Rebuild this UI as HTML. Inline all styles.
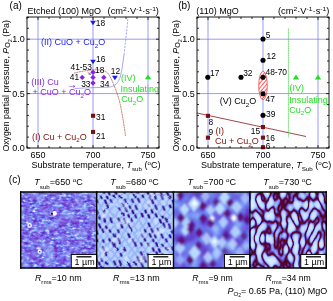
<!DOCTYPE html>
<html><head><meta charset="utf-8"><title>figure</title>
<style>
html,body{margin:0;padding:0;background:#fff;}
svg{display:block;filter:blur(0.3px)}
text{font-family:"Liberation Sans",sans-serif;font-size:9px;fill:#000}
.b{fill:#2222ee}.p{fill:#8a2be2}.r{fill:#7b1010}.g{fill:#22dd22}
.s{font-size:6.2px}
</style></head><body>
<svg width="333" height="301" viewBox="0 0 333 301">
<rect width="333" height="301" fill="#fff"/>

<line x1="38.0" y1="17" x2="38.0" y2="148" stroke="#5858f4" stroke-width="0.6"/>
<line x1="93.0" y1="17" x2="93.0" y2="148" stroke="#5858f4" stroke-width="0.6"/>
<line x1="148.0" y1="17" x2="148.0" y2="148" stroke="#5858f4" stroke-width="0.6"/>
<line x1="27" y1="93.6" x2="159" y2="93.6" stroke="#5858f4" stroke-width="0.6"/>
<line x1="27" y1="39.2" x2="159" y2="39.2" stroke="#5858f4" stroke-width="0.6"/>
<path d="M27.0 17v2M27.0 148v-2M38.0 17v3M38.0 148v-3M49.0 17v2M49.0 148v-2M60.0 17v2M60.0 148v-2M71.0 17v2M71.0 148v-2M82.0 17v2M82.0 148v-2M93.0 17v3M93.0 148v-3M104.0 17v2M104.0 148v-2M115.0 17v2M115.0 148v-2M126.0 17v2M126.0 148v-2M137.0 17v2M137.0 148v-2M148.0 17v3M148.0 148v-3M159.0 17v2M159.0 148v-2M27 148.0h3M159 148.0h-3M27 137.1h2M159 137.1h-2M27 126.2h2M159 126.2h-2M27 115.4h2M159 115.4h-2M27 104.5h2M159 104.5h-2M27 93.6h3M159 93.6h-3M27 82.7h2M159 82.7h-2M27 71.8h2M159 71.8h-2M27 61.0h2M159 61.0h-2M27 50.1h2M159 50.1h-2M27 39.2h3M159 39.2h-3M27 28.3h2M159 28.3h-2M27 17.4h2M159 17.4h-2" stroke="#000" stroke-width="0.8" fill="none"/>
<path d="M74 73.2 C80 71.5 88 70 96 69.8 C101 69.8 105 70.5 107.5 73 C110.5 76 112.5 82 115.3 88.5 C117.5 94 118.5 98 119.5 101 C121.5 110 123.5 121 125.5 136" fill="none" stroke="#a85a4a" stroke-width="0.7" stroke-dasharray="2.2 0.4"/>
<path d="M74.5 88.6 C85 87.8 100 87.5 108 87.2 C115 86.8 118.5 83 120.5 76 C122 70 123 62 124 55" fill="none" stroke="#6a6af0" stroke-width="0.6"/>
<path d="M124 55 C125.5 42 127 29 128 17" fill="none" stroke="#6a6af0" stroke-width="0.6" stroke-dasharray="2.2 1.2"/>
<path d="M90.1 20.8h5.8L93.0 25.2z" fill="#1c1ce8"/>
<path d="M90.1 59.8h5.8L93.0 64.2z" fill="#1c1ce8"/>
<path d="M112.0 75.8h5.8L114.9 80.2z" fill="#1c1ce8"/>
<path d="M90.3 72.2L93.0 69.5L95.7 72.2L93.0 74.9z" fill="#8a20e8"/>
<path d="M79.5 77.4L82.2 74.7L84.9 77.4L82.2 80.1z" fill="#8a20e8"/>
<path d="M90.3 77.4L93.0 74.7L95.7 77.4L93.0 80.1z" fill="#8a20e8"/>
<path d="M101.1 77.4L103.8 74.7L106.5 77.4L103.8 80.1z" fill="#8a20e8"/>
<path d="M90.3 83.0L93.0 80.3L95.7 83.0L93.0 85.7z" fill="#8a20e8"/>
<rect x="91.0" y="113.7" width="4.1" height="4.1" fill="#7b1010"/>
<rect x="91.0" y="129.9" width="4.1" height="4.1" fill="#7b1010"/>
<path d="M144.8 79.2h6.4L148.0 74.4z" fill="#22dd22"/>
<text x="9.6" y="9.2" style="font-size:10px">(a)</text>
<text x="27.5" y="13.5">Etched (100) MgO</text>
<text x="107.6" y="13.6" style="font-size:8.6px" textLength="51.4" lengthAdjust="spacingAndGlyphs">(cm<tspan dy="-3" class="s">2</tspan><tspan dy="3">·V</tspan><tspan dy="-3" class="s">-1</tspan><tspan dy="3">·s</tspan><tspan dy="-3" class="s">-1</tspan><tspan dy="3">)</tspan></text>
<text x="95.8" y="25.7" style="font-size:8.4px">18</text>
<text x="96" y="62.3" style="font-size:8.4px">16</text>
<text x="95" y="72.6" style="font-size:8.4px">18</text>
<text x="110.8" y="74" style="font-size:8.4px">12</text>
<text x="70.5" y="69.5" style="font-size:8.4px">41-53</text>
<text x="69.8" y="80.3" style="font-size:8.4px">41</text>
<text x="81.2" y="86.6" style="font-size:8.4px">33</text>
<text x="100" y="86.6" style="font-size:8.4px">34</text>
<text x="96" y="119.8" style="font-size:8.4px">31</text>
<text x="96" y="138.7" style="font-size:8.4px">21</text>
<text x="41" y="45.4" class="b">(II) CuO + Cu<tspan dy="2.5" class="s b">2</tspan><tspan dy="-2.5">O</tspan></text>
<text x="31.2" y="84.8" class="p">(III) Cu</text>
<text x="32.4" y="95.3" class="p">+ CuO + Cu<tspan dy="2.5" class="s p">2</tspan><tspan dy="-2.5">O</tspan></text>
<text x="32" y="139.6" class="r">(I) Cu + Cu<tspan dy="2.5" class="s r">2</tspan><tspan dy="-2.5">O</tspan></text>
<text x="121" y="81.3" class="g">(IV)</text>
<text x="120.4" y="91.5" class="g">Insulating</text>
<text x="121.2" y="102" class="g">Cu<tspan dy="2.5" class="s g">2</tspan><tspan dy="-2.5">O</tspan></text>
<path d="M69 86.4h6m-2 -1.1l2 1.1l-2 1.1" stroke="#8a2be2" stroke-width="0.55" fill="none"/>
<path d="M87.5 72l3 2.6m-2.1 -0.5l2.1 0.5l-0.7 -1.9" stroke="#333" stroke-width="0.5" fill="none"/>
<text x="24.8" y="151.2" text-anchor="end">0.0</text>
<text x="24.8" y="96.8" text-anchor="end">0.5</text>
<text x="24.8" y="42.4" text-anchor="end">1.0</text>
<text x="38.0" y="157.9" text-anchor="middle">650</text>
<text x="93.0" y="157.9" text-anchor="middle">700</text>
<text x="148.0" y="157.9" text-anchor="middle">750</text>
<text transform="translate(9.2 151.6) rotate(-90)" textLength="131.5" lengthAdjust="spacingAndGlyphs">Oxygen partial pressure, <tspan font-style="italic">P</tspan><tspan dy="1.2" style="font-size:7.4px">O</tspan><tspan dy="1.8" style="font-size:5.6px">2</tspan><tspan dy="-3"> (Pa)</tspan></text>
<text x="31.5" y="167.6" textLength="129" lengthAdjust="spacingAndGlyphs">Substrate temperature, <tspan font-style="italic">T</tspan><tspan dy="3.6" class="s">sub</tspan><tspan dy="-3.6"> (</tspan><tspan dy="-3" class="s">o</tspan><tspan dy="3">C)</tspan></text>
<rect x="27" y="17" width="132" height="131" fill="none" stroke="#000" stroke-width="0.9"/>
<line x1="208.0" y1="17" x2="208.0" y2="148" stroke="#5858f4" stroke-width="0.6"/>
<line x1="263.0" y1="17" x2="263.0" y2="148" stroke="#5858f4" stroke-width="0.6"/>
<line x1="318.0" y1="17" x2="318.0" y2="148" stroke="#5858f4" stroke-width="0.6"/>
<line x1="197" y1="93.6" x2="329" y2="93.6" stroke="#5858f4" stroke-width="0.6"/>
<line x1="197" y1="39.2" x2="329" y2="39.2" stroke="#5858f4" stroke-width="0.6"/>
<path d="M197.0 17v2M197.0 148v-2M208.0 17v3M208.0 148v-3M219.0 17v2M219.0 148v-2M230.0 17v2M230.0 148v-2M241.0 17v2M241.0 148v-2M252.0 17v2M252.0 148v-2M263.0 17v3M263.0 148v-3M274.0 17v2M274.0 148v-2M285.0 17v2M285.0 148v-2M296.0 17v2M296.0 148v-2M307.0 17v2M307.0 148v-2M318.0 17v3M318.0 148v-3M329.0 17v2M329.0 148v-2M197 148.0h3M329 148.0h-3M197 137.1h2M329 137.1h-2M197 126.2h2M329 126.2h-2M197 115.4h2M329 115.4h-2M197 104.5h2M329 104.5h-2M197 93.6h3M329 93.6h-3M197 82.7h2M329 82.7h-2M197 71.8h2M329 71.8h-2M197 61.0h2M329 61.0h-2M197 50.1h2M329 50.1h-2M197 39.2h3M329 39.2h-3M197 28.3h2M329 28.3h-2M197 17.4h2M329 17.4h-2" stroke="#000" stroke-width="0.8" fill="none"/>
<defs><pattern id="h" width="3" height="3" patternUnits="userSpaceOnUse" patternTransform="rotate(-50)"><rect width="3" height="3" fill="#fff8f8"/><rect width="3" height="0.8" fill="#ee3a3a"/></pattern></defs>
<ellipse cx="263.0" cy="85.6" rx="4.3" ry="14.2" fill="url(#h)" stroke="#ee3535" stroke-width="0.7"/>
<line x1="197" y1="113" x2="306" y2="136.5" stroke="#8b1515" stroke-width="0.8"/>
<line x1="288.4" y1="28.5" x2="288.4" y2="137.5" stroke="#3c3" stroke-width="0.7" stroke-dasharray="1.4 0.35"/>
<circle cx="263.0" cy="39.0" r="2.55" fill="#000"/>
<circle cx="263.0" cy="60.2" r="2.55" fill="#000"/>
<circle cx="263.0" cy="77.3" r="2.55" fill="#000"/>
<circle cx="263.0" cy="93.8" r="2.55" fill="#000"/>
<circle cx="263.0" cy="115.3" r="2.55" fill="#000"/>
<circle cx="207.8" cy="77.2" r="2.55" fill="#000"/>
<circle cx="241.0" cy="77.2" r="2.55" fill="#000"/>
<rect x="260.9" y="125.0" width="4.1" height="4.1" fill="#7b1010"/>
<rect x="260.9" y="135.6" width="4.1" height="4.1" fill="#7b1010"/>
<rect x="260.9" y="145.2" width="4.1" height="4.1" fill="#7b1010"/>
<rect x="205.9" y="113.8" width="4.1" height="4.1" fill="#7b1010"/>
<rect x="205.9" y="135.6" width="4.1" height="4.1" fill="#7b1010"/>
<path d="M292.8 79.4h6.4L296.0 74.6z" fill="#22dd22"/>
<path d="M314.8 79.4h6.4L318.0 74.6z" fill="#22dd22"/>
<text x="178.2" y="9.2" style="font-size:10px">(b)</text>
<text x="196.3" y="14">(110) MgO</text>
<text x="278" y="13.6" style="font-size:8.6px" textLength="51.4" lengthAdjust="spacingAndGlyphs">(cm<tspan dy="-3" class="s">2</tspan><tspan dy="3">·V</tspan><tspan dy="-3" class="s">-1</tspan><tspan dy="3">·s</tspan><tspan dy="-3" class="s">-1</tspan><tspan dy="3">)</tspan></text>
<text x="265.8" y="37.5" style="font-size:8.4px">5</text>
<text x="266.6" y="58.5" style="font-size:8.4px">12</text>
<text x="265.5" y="74.7" style="font-size:8.4px" textLength="21.5" lengthAdjust="spacingAndGlyphs">48-70</text>
<text x="210" y="75.7" style="font-size:8.4px">17</text>
<text x="243.2" y="75.7" style="font-size:8.4px">32</text>
<text x="265.5" y="102.2" style="font-size:8.4px">47</text>
<text x="266" y="116.8" style="font-size:8.4px">39</text>
<text x="208.4" y="125.2" style="font-size:8.4px">8</text>
<text x="208.4" y="135.3" style="font-size:8.4px">9</text>
<text x="250.8" y="134.3" style="font-size:8.4px">15</text>
<text x="265.5" y="140.5" style="font-size:8.4px">16</text>
<text x="265.8" y="148.6" style="font-size:8.4px">6</text>
<text x="219.8" y="104">(V) Cu<tspan dy="2.5" class="s">2</tspan><tspan dy="-2.5">O</tspan></text>
<text x="215.4" y="134.4" class="r">(I)</text>
<text x="215" y="144.3" class="r">Cu + Cu<tspan dy="2.5" class="s r">2</tspan><tspan dy="-2.5">O</tspan></text>
<text x="289.6" y="91.2" class="g">(IV)</text>
<text x="289.2" y="102.6" class="g">Insulating</text>
<text x="289.2" y="112.5" class="g">Cu<tspan dy="2.5" class="s g">2</tspan><tspan dy="-2.5">O</tspan></text>
<text x="194.8" y="151.2" text-anchor="end">0.0</text>
<text x="194.8" y="96.8" text-anchor="end">0.5</text>
<text x="194.8" y="42.4" text-anchor="end">1.0</text>
<text x="208.0" y="157.9" text-anchor="middle">650</text>
<text x="263.0" y="157.9" text-anchor="middle">700</text>
<text x="318.0" y="157.9" text-anchor="middle">750</text>
<text transform="translate(179.2 151.6) rotate(-90)" textLength="131.5" lengthAdjust="spacingAndGlyphs">Oxygen partial pressure, <tspan font-style="italic">P</tspan><tspan dy="1.2" style="font-size:7.4px">O</tspan><tspan dy="1.8" style="font-size:5.6px">2</tspan><tspan dy="-3"> (Pa)</tspan></text>
<text x="201" y="167.6" textLength="130.4" lengthAdjust="spacingAndGlyphs">Substrate temperature, <tspan font-style="italic">T</tspan><tspan dy="3.6" class="s">Sub</tspan><tspan dy="-3.6"> (</tspan><tspan dy="-3" class="s">o</tspan><tspan dy="3">C)</tspan></text>
<rect x="197" y="17" width="132" height="131" fill="none" stroke="#000" stroke-width="0.9"/>
<text x="8.8" y="183" style="font-size:10px">(c)</text>
<text x="34.3" y="185.2" textLength="48.4" lengthAdjust="spacingAndGlyphs"><tspan font-style="italic">T</tspan><tspan dy="3.4" class="s">sub</tspan><tspan dy="-3.4">=650 </tspan><tspan dy="-3" class="s">o</tspan><tspan dy="3">C</tspan></text>
<text x="110.3" y="185.2" textLength="48.4" lengthAdjust="spacingAndGlyphs"><tspan font-style="italic">T</tspan><tspan dy="3.4" class="s">sub</tspan><tspan dy="-3.4">=680 </tspan><tspan dy="-3" class="s">o</tspan><tspan dy="3">C</tspan></text>
<text x="187.6" y="185.2" textLength="48.4" lengthAdjust="spacingAndGlyphs"><tspan font-style="italic">T</tspan><tspan dy="3.4" class="s">sub</tspan><tspan dy="-3.4">=700 </tspan><tspan dy="-3" class="s">o</tspan><tspan dy="3">C</tspan></text>
<text x="263.3" y="185.2" textLength="48.4" lengthAdjust="spacingAndGlyphs"><tspan font-style="italic">T</tspan><tspan dy="3.4" class="s">sub</tspan><tspan dy="-3.4">=730 </tspan><tspan dy="-3" class="s">o</tspan><tspan dy="3">C</tspan></text>
<text x="34.9" y="281.3" textLength="46.7" lengthAdjust="spacingAndGlyphs"><tspan font-style="italic">R</tspan><tspan dy="2.8" class="s">rms</tspan><tspan dy="-2.8">=10 nm</tspan></text>
<text x="113" y="281.3" textLength="46.7" lengthAdjust="spacingAndGlyphs"><tspan font-style="italic">R</tspan><tspan dy="2.8" class="s">rms</tspan><tspan dy="-2.8">=13 nm</tspan></text>
<text x="192.2" y="281.3" textLength="40.5" lengthAdjust="spacingAndGlyphs"><tspan font-style="italic">R</tspan><tspan dy="2.8" class="s">rms</tspan><tspan dy="-2.8">=9 nm</tspan></text>
<text x="265.5" y="281.3" textLength="45.3" lengthAdjust="spacingAndGlyphs"><tspan font-style="italic">R</tspan><tspan dy="2.8" class="s">rms</tspan><tspan dy="-2.8">=34 nm</tspan></text>
<text x="227.4" y="293.6" textLength="100" lengthAdjust="spacingAndGlyphs"><tspan font-style="italic">P</tspan><tspan dy="2.5" class="s">O</tspan><tspan dy="1.3" style="font-size:5px">2</tspan><tspan dy="-3.8">= 0.65 Pa, (110) MgO</tspan></text>
<defs>
<clipPath id="c0"><rect x="20.7" y="192.0" width="76.0" height="76.0"/></clipPath>
<clipPath id="c1"><rect x="96.7" y="192.0" width="76.8" height="76.0"/></clipPath>
<clipPath id="c2"><rect x="173.5" y="192.0" width="76.4" height="76.0"/></clipPath>
<clipPath id="c3"><rect x="249.9" y="192.0" width="76.3" height="76.0"/></clipPath>
<filter id="f1" x="0" y="0" width="1" height="1" color-interpolation-filters="sRGB"><feTurbulence type="fractalNoise" baseFrequency="0.24 0.4" numOctaves="2" seed="3" result="n"/><feColorMatrix type="matrix" values="1 0 0 0 0  1 0 0 0 0  1 0 0 0 0  0 0 0 0 1"/><feComponentTransfer><feFuncR type="table" tableValues="0.298 0.305 0.312 0.319 0.327 0.334 0.341 0.348 0.355 0.362 0.369 0.376 0.385 0.394 0.403 0.412 0.421 0.430 0.439 0.441 0.444 0.446 0.448 0.450 0.453 0.455 0.469 0.484 0.498 0.512 0.527 0.541 0.569 0.598 0.626 0.654 0.682 0.722 0.762 0.801 0.841 0.881 0.921 0.960 1.000 1.000 1.000 1.000 1.000 1.000 1.000"/><feFuncG type="table" tableValues="0.094 0.100 0.106 0.111 0.117 0.123 0.128 0.134 0.140 0.145 0.151 0.157 0.175 0.193 0.211 0.229 0.246 0.264 0.282 0.308 0.334 0.360 0.385 0.411 0.437 0.463 0.492 0.520 0.549 0.578 0.607 0.635 0.673 0.711 0.748 0.786 0.824 0.846 0.868 0.890 0.912 0.934 0.956 0.978 1.000 1.000 1.000 1.000 1.000 1.000 1.000"/><feFuncB type="table" tableValues="0.596 0.610 0.625 0.639 0.653 0.667 0.682 0.696 0.710 0.724 0.739 0.753 0.768 0.782 0.797 0.811 0.826 0.840 0.855 0.866 0.877 0.889 0.900 0.911 0.922 0.933 0.940 0.946 0.953 0.959 0.966 0.973 0.978 0.984 0.989 0.995 1.000 1.000 1.000 1.000 1.000 1.000 1.000 1.000 1.000 1.000 1.000 1.000 1.000 1.000 1.000"/></feComponentTransfer><feGaussianBlur stdDeviation="0.5"/></filter>
<filter id="f3" x="0" y="0" width="1" height="1" color-interpolation-filters="sRGB"><feTurbulence type="fractalNoise" baseFrequency="0.09 0.09" numOctaves="1" seed="8" result="n"/><feColorMatrix type="matrix" values="1 0 0 0 0  1 0 0 0 0  1 0 0 0 0  0 0 0 0 1"/><feComponentTransfer><feFuncR type="table" tableValues="0.353 0.356 0.358 0.361 0.363 0.366 0.369 0.371 0.374 0.376 0.379 0.382 0.384 0.387 0.390 0.392 0.396 0.400 0.404 0.408 0.412 0.416 0.416 0.416 0.416 0.416 0.420 0.425 0.430 0.435 0.439 0.455 0.471 0.486 0.502 0.518 0.533 0.558 0.582 0.607 0.631 0.655 0.680 0.704 0.729 0.753 0.802 0.852 0.901 0.951 1.000"/><feFuncG type="table" tableValues="0.125 0.135 0.144 0.154 0.163 0.173 0.182 0.191 0.201 0.210 0.220 0.229 0.238 0.248 0.257 0.267 0.282 0.298 0.314 0.329 0.345 0.361 0.380 0.400 0.420 0.439 0.455 0.471 0.486 0.502 0.518 0.539 0.559 0.580 0.601 0.622 0.643 0.668 0.692 0.716 0.741 0.765 0.790 0.814 0.838 0.863 0.890 0.918 0.945 0.973 1.000"/><feFuncB type="table" tableValues="0.596 0.610 0.623 0.637 0.650 0.664 0.678 0.691 0.705 0.718 0.732 0.746 0.759 0.773 0.786 0.800 0.813 0.826 0.839 0.852 0.865 0.878 0.886 0.894 0.902 0.910 0.915 0.919 0.924 0.929 0.933 0.937 0.941 0.945 0.949 0.953 0.957 0.962 0.966 0.971 0.976 0.981 0.986 0.990 0.995 1.000 1.000 1.000 1.000 1.000 1.000"/></feComponentTransfer><feGaussianBlur stdDeviation="0.6"/></filter>
<filter id="f4" x="0" y="0" width="1" height="1" color-interpolation-filters="sRGB"><feTurbulence type="fractalNoise" baseFrequency="0.16 0.09" numOctaves="1" seed="7" result="n"/><feColorMatrix type="matrix" values="1 0 0 0 0  1 0 0 0 0  1 0 0 0 0  0 0 0 0 1"/><feComponentTransfer><feFuncR type="table" tableValues="0.910 0.904 0.898 0.892 0.887 0.881 0.875 0.869 0.863 0.858 0.852 0.846 0.840 0.834 0.819 0.794 0.769 0.744 0.718 0.665 0.584 0.502 0.412 0.366 0.341 0.314 0.341 0.366 0.412 0.502 0.584 0.665 0.718 0.744 0.769 0.794 0.819 0.834 0.840 0.846 0.852 0.858 0.863 0.869 0.875 0.881 0.887 0.892 0.898 0.904 0.910"/><feFuncG type="table" tableValues="0.957 0.953 0.950 0.946 0.943 0.939 0.936 0.932 0.929 0.925 0.922 0.919 0.915 0.912 0.902 0.886 0.871 0.855 0.839 0.778 0.671 0.565 0.341 0.125 0.037 0.000 0.037 0.125 0.341 0.565 0.671 0.778 0.839 0.855 0.871 0.886 0.902 0.912 0.915 0.919 0.922 0.925 0.929 0.932 0.936 0.939 0.943 0.946 0.950 0.953 0.957"/><feFuncB type="table" tableValues="1.000 1.000 1.000 1.000 1.000 1.000 1.000 1.000 1.000 1.000 1.000 1.000 1.000 1.000 1.000 1.000 1.000 1.000 1.000 0.988 0.965 0.941 0.807 0.460 0.236 0.125 0.236 0.460 0.807 0.941 0.965 0.988 1.000 1.000 1.000 1.000 1.000 1.000 1.000 1.000 1.000 1.000 1.000 1.000 1.000 1.000 1.000 1.000 1.000 1.000 1.000"/></feComponentTransfer><feGaussianBlur stdDeviation="0.45"/></filter>
<filter id="f2" x="0" y="0" width="1" height="1" color-interpolation-filters="sRGB"><feTurbulence type="fractalNoise" baseFrequency="0.045" numOctaves="1" seed="4" result="n"/><feDisplacementMap in="SourceGraphic" in2="n" scale="6" xChannelSelector="R" yChannelSelector="G"/><feGaussianBlur stdDeviation="0.65"/></filter>
</defs>
<rect x="20.7" y="192.0" width="76.0" height="76.0" filter="url(#f1)"/>
<rect x="173.5" y="192.0" width="76.4" height="76.0" filter="url(#f3)"/>
<rect x="249.9" y="192.0" width="76.3" height="76.0" filter="url(#f4)"/>
<g clip-path="url(#c1)"><g filter="url(#f2)">
<rect x="90.7" y="186.0" width="88.8" height="88.0" fill="#b2d2fe"/>
<path d="M89.3 191.4l3.5 4.8M89.3 191.4l3.5 -4.8M93.0 188.1l3.5 4.8M93.0 188.1l3.5 -4.8M88.7 201.1l3.5 4.8M88.7 201.1l3.5 -4.8M92.3 196.4l3.5 4.8M92.3 196.4l3.5 -4.8M95.8 190.9l3.5 4.8M95.8 190.9l3.5 -4.8M100.8 186.3l3.5 4.8M100.8 186.3l3.5 -4.8M88.9 210.5l3.5 4.8M88.9 210.5l3.5 -4.8M93.3 205.5l3.5 4.8M93.3 205.5l3.5 -4.8M96.2 200.7l3.5 4.8M96.2 200.7l3.5 -4.8M100.3 196.2l3.5 4.8M100.3 196.2l3.5 -4.8M103.9 191.1l3.5 4.8M103.9 191.1l3.5 -4.8M108.0 187.3l3.5 4.8M108.0 187.3l3.5 -4.8M89.2 221.0l3.5 4.8M89.2 221.0l3.5 -4.8M92.2 216.1l3.5 4.8M92.2 216.1l3.5 -4.8M97.5 211.8l3.5 4.8M97.5 211.8l3.5 -4.8M99.7 207.0l3.5 4.8M99.7 207.0l3.5 -4.8M104.7 202.0l3.5 4.8M104.7 202.0l3.5 -4.8M107.2 197.1l3.5 4.8M107.2 197.1l3.5 -4.8M109.7 191.6l3.5 4.8M109.7 191.6l3.5 -4.8M113.9 186.6l3.5 4.8M113.9 186.6l3.5 -4.8M88.9 229.3l3.5 4.8M88.9 229.3l3.5 -4.8M92.9 226.7l3.5 4.8M92.9 226.7l3.5 -4.8M95.7 220.0l3.5 4.8M95.7 220.0l3.5 -4.8M99.5 217.0l3.5 4.8M99.5 217.0l3.5 -4.8M104.2 212.1l3.5 4.8M104.2 212.1l3.5 -4.8M106.6 207.5l3.5 4.8M106.6 207.5l3.5 -4.8M111.4 201.5l3.5 4.8M111.4 201.5l3.5 -4.8M114.7 195.8l3.5 4.8M114.7 195.8l3.5 -4.8M116.7 192.1l3.5 4.8M116.7 192.1l3.5 -4.8M121.5 186.6l3.5 4.8M121.5 186.6l3.5 -4.8M89.5 239.6l3.5 4.8M89.5 239.6l3.5 -4.8M92.9 235.0l3.5 4.8M92.9 235.0l3.5 -4.8M96.9 231.3l3.5 4.8M96.9 231.3l3.5 -4.8M99.6 224.9l3.5 4.8M99.6 224.9l3.5 -4.8M104.6 219.8l3.5 4.8M104.6 219.8l3.5 -4.8M107.3 215.6l3.5 4.8M107.3 215.6l3.5 -4.8M109.6 211.7l3.5 4.8M109.6 211.7l3.5 -4.8M114.2 206.6l3.5 4.8M114.2 206.6l3.5 -4.8M117.1 201.9l3.5 4.8M117.1 201.9l3.5 -4.8M120.9 197.3l3.5 4.8M120.9 197.3l3.5 -4.8M125.1 191.6l3.5 4.8M125.1 191.6l3.5 -4.8M128.4 186.7l3.5 4.8M128.4 186.7l3.5 -4.8M90.4 249.4l3.5 4.8M90.4 249.4l3.5 -4.8M93.2 244.8l3.5 4.8M93.2 244.8l3.5 -4.8M97.1 240.5l3.5 4.8M97.1 240.5l3.5 -4.8M100.3 235.8l3.5 4.8M100.3 235.8l3.5 -4.8M102.9 229.8l3.5 4.8M102.9 229.8l3.5 -4.8M106.3 226.2l3.5 4.8M106.3 226.2l3.5 -4.8M111.2 220.8l3.5 4.8M111.2 220.8l3.5 -4.8M114.4 217.1l3.5 4.8M114.4 217.1l3.5 -4.8M118.5 210.4l3.5 4.8M118.5 210.4l3.5 -4.8M122.3 205.9l3.5 4.8M122.3 205.9l3.5 -4.8M125.5 201.7l3.5 4.8M125.5 201.7l3.5 -4.8M127.8 197.6l3.5 4.8M127.8 197.6l3.5 -4.8M132.5 191.5l3.5 4.8M132.5 191.5l3.5 -4.8M134.9 187.1l3.5 4.8M134.9 187.1l3.5 -4.8M89.7 260.0l3.5 4.8M89.7 260.0l3.5 -4.8M92.4 253.9l3.5 4.8M92.4 253.9l3.5 -4.8M97.5 249.0l3.5 4.8M97.5 249.0l3.5 -4.8M99.2 245.0l3.5 4.8M99.2 245.0l3.5 -4.8M103.4 241.0l3.5 4.8M103.4 241.0l3.5 -4.8M107.1 234.6l3.5 4.8M107.1 234.6l3.5 -4.8M110.0 231.0l3.5 4.8M110.0 231.0l3.5 -4.8M113.3 225.7l3.5 4.8M113.3 225.7l3.5 -4.8M117.9 220.7l3.5 4.8M117.9 220.7l3.5 -4.8M121.5 215.2l3.5 4.8M121.5 215.2l3.5 -4.8M125.1 210.5l3.5 4.8M125.1 210.5l3.5 -4.8M129.0 207.2l3.5 4.8M129.0 207.2l3.5 -4.8M132.5 200.8l3.5 4.8M132.5 200.8l3.5 -4.8M135.1 196.1l3.5 4.8M135.1 196.1l3.5 -4.8M138.0 191.8l3.5 4.8M138.0 191.8l3.5 -4.8M143.0 187.2l3.5 4.8M143.0 187.2l3.5 -4.8M89.2 269.5l3.5 4.8M89.2 269.5l3.5 -4.8M92.6 264.0l3.5 4.8M92.6 264.0l3.5 -4.8M97.1 259.7l3.5 4.8M97.1 259.7l3.5 -4.8M100.6 255.4l3.5 4.8M100.6 255.4l3.5 -4.8M103.5 248.7l3.5 4.8M103.5 248.7l3.5 -4.8M107.4 245.5l3.5 4.8M107.4 245.5l3.5 -4.8M109.6 240.0l3.5 4.8M109.6 240.0l3.5 -4.8M114.0 235.4l3.5 4.8M114.0 235.4l3.5 -4.8M117.4 231.2l3.5 4.8M117.4 231.2l3.5 -4.8M120.7 226.0l3.5 4.8M120.7 226.0l3.5 -4.8M123.9 221.2l3.5 4.8M123.9 221.2l3.5 -4.8M127.7 217.0l3.5 4.8M127.7 217.0l3.5 -4.8M131.9 212.1l3.5 4.8M131.9 212.1l3.5 -4.8M135.2 207.5l3.5 4.8M135.2 207.5l3.5 -4.8M138.8 200.5l3.5 4.8M138.8 200.5l3.5 -4.8M142.9 196.3l3.5 4.8M142.9 196.3l3.5 -4.8M146.5 192.0l3.5 4.8M146.5 192.0l3.5 -4.8M149.6 186.3l3.5 4.8M149.6 186.3l3.5 -4.8M93.3 274.0l3.5 4.8M93.3 274.0l3.5 -4.8M96.2 268.5l3.5 4.8M96.2 268.5l3.5 -4.8M100.3 263.5l3.5 4.8M100.3 263.5l3.5 -4.8M102.7 259.9l3.5 4.8M102.7 259.9l3.5 -4.8M106.7 253.8l3.5 4.8M106.7 253.8l3.5 -4.8M111.1 249.4l3.5 4.8M111.1 249.4l3.5 -4.8M113.3 244.4l3.5 4.8M113.3 244.4l3.5 -4.8M118.1 240.6l3.5 4.8M118.1 240.6l3.5 -4.8M120.9 235.0l3.5 4.8M120.9 235.0l3.5 -4.8M124.4 229.7l3.5 4.8M124.4 229.7l3.5 -4.8M128.3 225.6l3.5 4.8M128.3 225.6l3.5 -4.8M131.3 219.8l3.5 4.8M131.3 219.8l3.5 -4.8M135.6 216.2l3.5 4.8M135.6 216.2l3.5 -4.8M139.5 211.8l3.5 4.8M139.5 211.8l3.5 -4.8M141.4 206.8l3.5 4.8M141.4 206.8l3.5 -4.8M145.7 202.5l3.5 4.8M145.7 202.5l3.5 -4.8M149.7 197.5l3.5 4.8M149.7 197.5l3.5 -4.8M153.1 192.4l3.5 4.8M153.1 192.4l3.5 -4.8M156.4 187.9l3.5 4.8M156.4 187.9l3.5 -4.8M99.9 272.9l3.5 4.8M99.9 272.9l3.5 -4.8M102.7 268.1l3.5 4.8M102.7 268.1l3.5 -4.8M107.1 263.1l3.5 4.8M107.1 263.1l3.5 -4.8M110.6 260.3l3.5 4.8M110.6 260.3l3.5 -4.8M114.8 254.3l3.5 4.8M114.8 254.3l3.5 -4.8M116.9 248.7l3.5 4.8M116.9 248.7l3.5 -4.8M120.7 243.7l3.5 4.8M120.7 243.7l3.5 -4.8M125.2 241.0l3.5 4.8M125.2 241.0l3.5 -4.8M128.1 235.7l3.5 4.8M128.1 235.7l3.5 -4.8M130.9 229.3l3.5 4.8M130.9 229.3l3.5 -4.8M134.1 226.3l3.5 4.8M134.1 226.3l3.5 -4.8M138.6 219.8l3.5 4.8M138.6 219.8l3.5 -4.8M142.3 215.1l3.5 4.8M142.3 215.1l3.5 -4.8M145.7 211.5l3.5 4.8M145.7 211.5l3.5 -4.8M148.9 205.5l3.5 4.8M148.9 205.5l3.5 -4.8M152.6 201.8l3.5 4.8M152.6 201.8l3.5 -4.8M155.2 197.3l3.5 4.8M155.2 197.3l3.5 -4.8M160.1 192.5l3.5 4.8M160.1 192.5l3.5 -4.8M163.1 186.4l3.5 4.8M163.1 186.4l3.5 -4.8M107.0 273.8l3.5 4.8M107.0 273.8l3.5 -4.8M111.4 269.7l3.5 4.8M111.4 269.7l3.5 -4.8M114.7 263.0l3.5 4.8M114.7 263.0l3.5 -4.8M118.5 258.5l3.5 4.8M118.5 258.5l3.5 -4.8M121.1 254.9l3.5 4.8M121.1 254.9l3.5 -4.8M124.3 248.7l3.5 4.8M124.3 248.7l3.5 -4.8M129.2 245.4l3.5 4.8M129.2 245.4l3.5 -4.8M132.8 240.6l3.5 4.8M132.8 240.6l3.5 -4.8M134.1 234.6l3.5 4.8M134.1 234.6l3.5 -4.8M139.6 230.0l3.5 4.8M139.6 230.0l3.5 -4.8M142.8 226.5l3.5 4.8M142.8 226.5l3.5 -4.8M145.8 219.9l3.5 4.8M145.8 219.9l3.5 -4.8M148.8 216.3l3.5 4.8M148.8 216.3l3.5 -4.8M152.0 211.3l3.5 4.8M152.0 211.3l3.5 -4.8M156.0 207.3l3.5 4.8M156.0 207.3l3.5 -4.8M159.1 201.1l3.5 4.8M159.1 201.1l3.5 -4.8M162.1 196.3l3.5 4.8M162.1 196.3l3.5 -4.8M166.6 192.4l3.5 4.8M166.6 192.4l3.5 -4.8M169.6 186.7l3.5 4.8M169.6 186.7l3.5 -4.8M113.4 273.5l3.5 4.8M113.4 273.5l3.5 -4.8M117.7 268.1l3.5 4.8M117.7 268.1l3.5 -4.8M120.2 263.7l3.5 4.8M120.2 263.7l3.5 -4.8M123.8 258.6l3.5 4.8M123.8 258.6l3.5 -4.8M128.3 255.2l3.5 4.8M128.3 255.2l3.5 -4.8M132.5 248.7l3.5 4.8M132.5 248.7l3.5 -4.8M135.3 244.2l3.5 4.8M135.3 244.2l3.5 -4.8M137.8 239.5l3.5 4.8M137.8 239.5l3.5 -4.8M142.1 235.7l3.5 4.8M142.1 235.7l3.5 -4.8M145.1 230.8l3.5 4.8M145.1 230.8l3.5 -4.8M149.2 224.9l3.5 4.8M149.2 224.9l3.5 -4.8M151.7 220.7l3.5 4.8M151.7 220.7l3.5 -4.8M156.3 215.4l3.5 4.8M156.3 215.4l3.5 -4.8M158.9 211.9l3.5 4.8M158.9 211.9l3.5 -4.8M163.7 207.2l3.5 4.8M163.7 207.2l3.5 -4.8M166.1 201.8l3.5 4.8M166.1 201.8l3.5 -4.8M169.3 196.2l3.5 4.8M169.3 196.2l3.5 -4.8M173.0 192.5l3.5 4.8M173.0 192.5l3.5 -4.8M177.6 186.1l3.5 4.8M177.6 186.1l3.5 -4.8M121.5 273.5l3.5 4.8M121.5 273.5l3.5 -4.8M124.6 269.2l3.5 4.8M124.6 269.2l3.5 -4.8M129.2 264.6l3.5 4.8M129.2 264.6l3.5 -4.8M131.1 259.0l3.5 4.8M131.1 259.0l3.5 -4.8M136.1 253.8l3.5 4.8M136.1 253.8l3.5 -4.8M138.4 250.0l3.5 4.8M138.4 250.0l3.5 -4.8M141.4 244.2l3.5 4.8M141.4 244.2l3.5 -4.8M144.9 239.8l3.5 4.8M144.9 239.8l3.5 -4.8M150.2 235.4l3.5 4.8M150.2 235.4l3.5 -4.8M152.0 230.4l3.5 4.8M152.0 230.4l3.5 -4.8M155.9 226.6l3.5 4.8M155.9 226.6l3.5 -4.8M160.4 221.1l3.5 4.8M160.4 221.1l3.5 -4.8M162.5 216.6l3.5 4.8M162.5 216.6l3.5 -4.8M166.9 212.0l3.5 4.8M166.9 212.0l3.5 -4.8M170.4 205.7l3.5 4.8M170.4 205.7l3.5 -4.8M173.2 200.7l3.5 4.8M173.2 200.7l3.5 -4.8M176.1 196.2l3.5 4.8M176.1 196.2l3.5 -4.8M179.6 191.2l3.5 4.8M179.6 191.2l3.5 -4.8M128.7 273.7l3.5 4.8M128.7 273.7l3.5 -4.8M130.8 267.9l3.5 4.8M130.8 267.9l3.5 -4.8M135.6 263.4l3.5 4.8M135.6 263.4l3.5 -4.8M139.3 258.9l3.5 4.8M139.3 258.9l3.5 -4.8M142.5 253.5l3.5 4.8M142.5 253.5l3.5 -4.8M144.7 250.7l3.5 4.8M144.7 250.7l3.5 -4.8M148.4 244.7l3.5 4.8M148.4 244.7l3.5 -4.8M153.3 240.6l3.5 4.8M153.3 240.6l3.5 -4.8M155.3 236.2l3.5 4.8M155.3 236.2l3.5 -4.8M158.9 229.5l3.5 4.8M158.9 229.5l3.5 -4.8M163.9 224.9l3.5 4.8M163.9 224.9l3.5 -4.8M166.3 220.0l3.5 4.8M166.3 220.0l3.5 -4.8M169.7 216.5l3.5 4.8M169.7 216.5l3.5 -4.8M174.6 211.1l3.5 4.8M174.6 211.1l3.5 -4.8M177.4 205.9l3.5 4.8M177.4 205.9l3.5 -4.8M179.9 200.9l3.5 4.8M179.9 200.9l3.5 -4.8M136.1 274.1l3.5 4.8M136.1 274.1l3.5 -4.8M137.8 269.0l3.5 4.8M137.8 269.0l3.5 -4.8M142.2 264.0l3.5 4.8M142.2 264.0l3.5 -4.8M145.1 258.9l3.5 4.8M145.1 258.9l3.5 -4.8M148.4 255.3l3.5 4.8M148.4 255.3l3.5 -4.8M153.2 249.4l3.5 4.8M153.2 249.4l3.5 -4.8M156.8 244.5l3.5 4.8M156.8 244.5l3.5 -4.8M159.1 240.8l3.5 4.8M159.1 240.8l3.5 -4.8M163.1 234.9l3.5 4.8M163.1 234.9l3.5 -4.8M166.3 230.0l3.5 4.8M166.3 230.0l3.5 -4.8M169.5 225.7l3.5 4.8M169.5 225.7l3.5 -4.8M174.7 221.9l3.5 4.8M174.7 221.9l3.5 -4.8M178.1 216.1l3.5 4.8M178.1 216.1l3.5 -4.8M142.0 273.5l3.5 4.8M142.0 273.5l3.5 -4.8M146.2 269.8l3.5 4.8M146.2 269.8l3.5 -4.8M149.8 264.2l3.5 4.8M149.8 264.2l3.5 -4.8M152.8 259.0l3.5 4.8M152.8 259.0l3.5 -4.8M156.9 253.4l3.5 4.8M156.9 253.4l3.5 -4.8M159.4 250.5l3.5 4.8M159.4 250.5l3.5 -4.8M163.5 244.7l3.5 4.8M163.5 244.7l3.5 -4.8M167.3 239.5l3.5 4.8M167.3 239.5l3.5 -4.8M171.1 235.3l3.5 4.8M171.1 235.3l3.5 -4.8M173.0 230.8l3.5 4.8M173.0 230.8l3.5 -4.8M177.9 224.8l3.5 4.8M177.9 224.8l3.5 -4.8M181.2 221.3l3.5 4.8M181.2 221.3l3.5 -4.8M149.8 273.8l3.5 4.8M149.8 273.8l3.5 -4.8M152.9 268.6l3.5 4.8M152.9 268.6l3.5 -4.8M155.3 264.6l3.5 4.8M155.3 264.6l3.5 -4.8M160.5 259.1l3.5 4.8M160.5 259.1l3.5 -4.8M162.7 254.9l3.5 4.8M162.7 254.9l3.5 -4.8M167.2 249.0l3.5 4.8M167.2 249.0l3.5 -4.8M171.1 245.8l3.5 4.8M171.1 245.8l3.5 -4.8M173.5 240.2l3.5 4.8M173.5 240.2l3.5 -4.8M177.8 235.1l3.5 4.8M177.8 235.1l3.5 -4.8M180.5 231.4l3.5 4.8M180.5 231.4l3.5 -4.8M155.6 273.6l3.5 4.8M155.6 273.6l3.5 -4.8M160.1 269.7l3.5 4.8M160.1 269.7l3.5 -4.8M163.6 264.5l3.5 4.8M163.6 264.5l3.5 -4.8M167.7 258.8l3.5 4.8M167.7 258.8l3.5 -4.8M171.1 254.6l3.5 4.8M171.1 254.6l3.5 -4.8M172.6 248.9l3.5 4.8M172.6 248.9l3.5 -4.8M178.2 244.3l3.5 4.8M178.2 244.3l3.5 -4.8M180.7 239.6l3.5 4.8M180.7 239.6l3.5 -4.8M163.3 274.7l3.5 4.8M163.3 274.7l3.5 -4.8M165.8 268.8l3.5 4.8M165.8 268.8l3.5 -4.8M170.2 264.7l3.5 4.8M170.2 264.7l3.5 -4.8M173.6 258.4l3.5 4.8M173.6 258.4l3.5 -4.8M177.6 254.6l3.5 4.8M177.6 254.6l3.5 -4.8M179.7 250.1l3.5 4.8M179.7 250.1l3.5 -4.8M171.1 274.4l3.5 4.8M171.1 274.4l3.5 -4.8M173.5 268.1l3.5 4.8M173.5 268.1l3.5 -4.8M176.9 263.2l3.5 4.8M176.9 263.2l3.5 -4.8M180.6 259.0l3.5 4.8M180.6 259.0l3.5 -4.8M177.2 273.5l3.5 4.8M177.2 273.5l3.5 -4.8M181.1 268.3l3.5 4.8M181.1 268.3l3.5 -4.8" stroke="#6670e4" stroke-width="1.7" stroke-opacity="0.3" fill="none" stroke-linecap="round"/>
<g stroke="#5a58d8" stroke-width="3.2" stroke-linecap="round" fill="none" opacity="0.55"><path d="M88.7 190.1L89.9 192.7" stroke-opacity="0.82"/><path d="M88.1 199.8L89.3 202.4" stroke-opacity="0.86"/><path d="M91.9 195.5L92.8 197.4" stroke-opacity="0.79"/><path d="M100.0 184.7L101.5 187.9" stroke-opacity="0.89"/><path d="M95.8 199.9L96.5 201.5" stroke-opacity="0.87"/><path d="M100.0 195.5L100.6 196.9" stroke-opacity="0.88"/><path d="M103.6 190.5L104.2 191.7" stroke-opacity="0.86"/><path d="M107.4 185.9L108.6 188.7" stroke-opacity="0.78"/><path d="M88.4 219.4L89.9 222.5" stroke-opacity="1.00"/><path d="M96.9 210.6L98.1 213.0" stroke-opacity="0.84"/><path d="M104.0 200.6L105.3 203.4" stroke-opacity="0.93"/><path d="M106.7 196.0L107.7 198.2" stroke-opacity="0.85"/><path d="M109.0 190.0L110.5 193.3" stroke-opacity="0.87"/><path d="M113.5 185.7L114.3 187.6" stroke-opacity="0.78"/><path d="M88.3 228.1L89.5 230.6" stroke-opacity="0.94"/><path d="M92.3 225.3L93.5 228.0" stroke-opacity="0.77"/><path d="M95.2 218.9L96.2 221.1" stroke-opacity="0.89"/><path d="M99.2 216.3L99.8 217.7" stroke-opacity="0.79"/><path d="M104.0 211.6L104.5 212.7" stroke-opacity="0.94"/><path d="M106.1 206.2L107.2 208.7" stroke-opacity="0.84"/><path d="M110.7 200.0L112.1 203.0" stroke-opacity="0.78"/><path d="M114.3 194.9L115.2 196.8" stroke-opacity="0.97"/><path d="M116.0 190.6L117.4 193.7" stroke-opacity="0.99"/><path d="M121.1 185.8L121.9 187.4" stroke-opacity="0.86"/><path d="M88.7 238.0L90.2 241.2" stroke-opacity="0.85"/><path d="M92.2 233.4L93.7 236.6" stroke-opacity="0.75"/><path d="M96.4 230.1L97.5 232.5" stroke-opacity="0.84"/><path d="M99.0 223.5L100.3 226.4" stroke-opacity="0.95"/><path d="M104.2 218.9L105.0 220.7" stroke-opacity="0.91"/><path d="M120.4 196.1L121.5 198.4" stroke-opacity="0.90"/><path d="M124.6 190.5L125.6 192.7" stroke-opacity="0.81"/><path d="M89.7 247.9L91.1 250.9" stroke-opacity="0.86"/><path d="M96.8 239.9L97.3 241.1" stroke-opacity="0.92"/><path d="M102.2 228.4L103.5 231.2" stroke-opacity="0.78"/><path d="M106.0 225.6L106.6 226.8" stroke-opacity="0.92"/><path d="M110.6 219.5L111.8 222.1" stroke-opacity="0.85"/><path d="M118.0 209.3L119.0 211.5" stroke-opacity="0.75"/><path d="M121.9 205.0L122.7 206.8" stroke-opacity="0.81"/><path d="M125.0 200.7L126.0 202.7" stroke-opacity="0.76"/><path d="M132.2 190.9L132.8 192.1" stroke-opacity="0.88"/><path d="M134.4 185.9L135.5 188.3" stroke-opacity="0.84"/><path d="M89.1 258.9L90.2 261.1" stroke-opacity="0.77"/><path d="M103.1 240.4L103.6 241.6" stroke-opacity="0.83"/><path d="M109.7 230.4L110.3 231.7" stroke-opacity="0.89"/><path d="M117.4 219.6L118.4 221.8" stroke-opacity="0.77"/><path d="M121.1 214.3L122.0 216.1" stroke-opacity="0.84"/><path d="M124.3 208.9L125.8 212.0" stroke-opacity="0.83"/><path d="M128.6 206.5L129.3 207.9" stroke-opacity="0.77"/><path d="M132.0 199.6L133.1 201.9" stroke-opacity="0.78"/><path d="M134.6 195.0L135.6 197.2" stroke-opacity="0.84"/><path d="M137.7 191.1L138.4 192.5" stroke-opacity="0.81"/><path d="M88.8 268.8L89.5 270.3" stroke-opacity="0.86"/><path d="M96.5 258.3L97.8 261.1" stroke-opacity="0.95"/><path d="M102.8 247.2L104.2 250.1" stroke-opacity="0.83"/><path d="M109.3 239.3L109.9 240.6" stroke-opacity="0.95"/><path d="M113.6 234.5L114.4 236.3" stroke-opacity="0.80"/><path d="M117.0 230.3L117.8 232.0" stroke-opacity="0.77"/><path d="M120.1 224.8L121.3 227.3" stroke-opacity="0.95"/><path d="M123.2 219.8L124.5 222.6" stroke-opacity="0.80"/><path d="M127.3 216.2L128.1 217.8" stroke-opacity="0.97"/><path d="M131.4 211.0L132.4 213.2" stroke-opacity="0.99"/><path d="M134.5 206.0L135.9 208.9" stroke-opacity="0.79"/><path d="M138.0 198.9L139.5 202.1" stroke-opacity="0.86"/><path d="M142.6 195.6L143.2 196.9" stroke-opacity="0.89"/><path d="M145.8 190.5L147.2 193.6" stroke-opacity="0.97"/><path d="M149.1 185.2L150.0 187.3" stroke-opacity="0.99"/><path d="M99.9 262.7L100.6 264.4" stroke-opacity="0.94"/><path d="M102.3 259.0L103.1 260.8" stroke-opacity="0.98"/><path d="M106.2 252.7L107.2 255.0" stroke-opacity="0.94"/><path d="M112.6 242.8L114.1 246.0" stroke-opacity="0.91"/><path d="M117.4 239.0L118.8 242.2" stroke-opacity="0.94"/><path d="M127.6 224.1L129.0 227.2" stroke-opacity="0.78"/><path d="M130.8 218.8L131.9 220.9" stroke-opacity="0.96"/><path d="M135.0 215.0L136.1 217.3" stroke-opacity="0.82"/><path d="M149.0 196.0L150.4 199.0" stroke-opacity="0.78"/><path d="M152.8 191.6L153.5 193.3" stroke-opacity="0.77"/><path d="M156.1 187.1L156.8 188.7" stroke-opacity="0.81"/><path d="M99.1 271.2L100.6 274.5" stroke-opacity="0.83"/><path d="M102.0 266.6L103.4 269.6" stroke-opacity="0.95"/><path d="M106.8 262.4L107.4 263.8" stroke-opacity="0.94"/><path d="M116.4 247.6L117.4 249.8" stroke-opacity="0.80"/><path d="M127.4 234.3L128.7 237.1" stroke-opacity="0.96"/><path d="M130.3 228.1L131.4 230.5" stroke-opacity="0.84"/><path d="M141.7 213.8L142.8 216.3" stroke-opacity="0.97"/><path d="M145.3 210.7L146.0 212.3" stroke-opacity="0.98"/><path d="M148.6 204.8L149.3 206.2" stroke-opacity="0.80"/><path d="M152.0 200.5L153.2 203.1" stroke-opacity="0.86"/><path d="M154.8 196.2L155.7 198.4" stroke-opacity="0.85"/><path d="M159.5 191.2L160.7 193.7" stroke-opacity="0.92"/><path d="M106.3 272.3L107.7 275.4" stroke-opacity="0.93"/><path d="M114.0 261.5L115.4 264.4" stroke-opacity="0.86"/><path d="M120.7 254.0L121.5 255.7" stroke-opacity="0.84"/><path d="M123.6 247.1L125.1 250.3" stroke-opacity="0.91"/><path d="M132.4 239.7L133.2 241.4" stroke-opacity="0.85"/><path d="M148.3 215.2L149.3 217.4" stroke-opacity="0.99"/><path d="M151.4 210.1L152.5 212.4" stroke-opacity="0.98"/><path d="M155.3 205.7L156.7 208.9" stroke-opacity="0.77"/><path d="M161.4 194.7L162.9 197.9" stroke-opacity="0.79"/><path d="M165.9 191.1L167.2 193.8" stroke-opacity="0.94"/><path d="M169.0 185.4L170.2 188.0" stroke-opacity="0.80"/><path d="M113.1 272.9L113.7 274.2" stroke-opacity="0.78"/><path d="M117.2 267.1L118.1 269.1" stroke-opacity="0.78"/><path d="M119.5 262.1L121.0 265.3" stroke-opacity="0.89"/><path d="M134.6 242.7L135.9 245.7" stroke-opacity="0.80"/><path d="M141.6 234.7L142.6 236.7" stroke-opacity="0.83"/><path d="M144.7 230.1L145.4 231.4" stroke-opacity="1.00"/><path d="M148.6 223.6L149.7 226.2" stroke-opacity="0.88"/><path d="M155.7 214.2L156.8 216.6" stroke-opacity="0.91"/><path d="M163.0 205.7L164.4 208.7" stroke-opacity="0.80"/><path d="M168.8 195.2L169.8 197.2" stroke-opacity="0.79"/><path d="M172.3 191.0L173.7 194.1" stroke-opacity="0.85"/><path d="M120.8 272.1L122.1 275.0" stroke-opacity="0.75"/><path d="M124.1 267.9L125.2 270.4" stroke-opacity="0.80"/><path d="M128.7 263.6L129.7 265.6" stroke-opacity="0.99"/><path d="M141.0 243.4L141.8 245.0" stroke-opacity="0.76"/><path d="M144.6 239.2L145.2 240.4" stroke-opacity="0.90"/><path d="M149.6 234.1L150.8 236.7" stroke-opacity="0.86"/><path d="M151.4 229.1L152.6 231.6" stroke-opacity="0.79"/><path d="M159.8 219.8L161.0 222.4" stroke-opacity="0.99"/><path d="M162.2 215.8L162.9 217.4" stroke-opacity="0.96"/><path d="M169.9 204.6L170.9 206.9" stroke-opacity="0.93"/><path d="M172.9 199.9L173.5 201.4" stroke-opacity="0.92"/><path d="M175.5 194.9L176.7 197.5" stroke-opacity="1.00"/><path d="M130.3 266.8L131.3 268.9" stroke-opacity="0.81"/><path d="M135.1 262.3L136.1 264.5" stroke-opacity="0.93"/><path d="M138.6 257.4L140.0 260.5" stroke-opacity="0.98"/><path d="M141.9 252.3L143.0 254.8" stroke-opacity="0.82"/><path d="M148.0 243.9L148.8 245.6" stroke-opacity="0.77"/><path d="M153.0 240.0L153.5 241.2" stroke-opacity="0.85"/><path d="M154.9 235.4L155.7 237.1" stroke-opacity="0.94"/><path d="M158.6 228.8L159.2 230.3" stroke-opacity="0.88"/><path d="M163.3 223.5L164.6 226.2" stroke-opacity="0.86"/><path d="M165.6 218.4L167.1 221.6" stroke-opacity="0.78"/><path d="M176.8 204.6L178.0 207.3" stroke-opacity="0.93"/><path d="M135.4 272.6L136.8 275.6" stroke-opacity="0.89"/><path d="M141.5 262.5L142.9 265.5" stroke-opacity="0.92"/><path d="M144.3 257.3L145.8 260.5" stroke-opacity="0.92"/><path d="M147.8 254.1L148.9 256.5" stroke-opacity="0.86"/><path d="M152.7 248.3L153.7 250.6" stroke-opacity="0.96"/><path d="M156.2 243.1L157.5 245.8" stroke-opacity="0.95"/><path d="M162.3 233.4L163.8 236.5" stroke-opacity="0.80"/><path d="M168.9 224.4L170.1 227.0" stroke-opacity="0.79"/><path d="M174.1 220.5L175.4 223.3" stroke-opacity="0.80"/><path d="M141.5 272.3L142.5 274.6" stroke-opacity="0.92"/><path d="M145.8 268.8L146.7 270.7" stroke-opacity="0.96"/><path d="M149.4 263.3L150.3 265.1" stroke-opacity="0.99"/><path d="M152.5 258.3L153.1 259.7" stroke-opacity="0.97"/><path d="M156.4 252.3L157.4 254.4" stroke-opacity="0.87"/><path d="M158.9 249.3L159.9 251.6" stroke-opacity="0.98"/><path d="M163.1 243.8L164.0 245.7" stroke-opacity="0.90"/><path d="M166.9 238.5L167.8 240.4" stroke-opacity="0.84"/><path d="M170.7 234.4L171.5 236.2" stroke-opacity="0.96"/><path d="M172.6 230.1L173.3 231.6" stroke-opacity="0.76"/><path d="M177.6 224.2L178.2 225.4" stroke-opacity="0.82"/><path d="M154.9 263.8L155.7 265.5" stroke-opacity="0.78"/><path d="M162.4 254.3L163.0 255.6" stroke-opacity="0.87"/><path d="M166.8 248.1L167.6 249.8" stroke-opacity="0.84"/><path d="M180.2 230.7L180.8 232.1" stroke-opacity="0.94"/><path d="M154.9 272.2L156.2 275.1" stroke-opacity="0.92"/><path d="M163.3 263.9L163.9 265.1" stroke-opacity="0.86"/><path d="M167.5 258.2L168.0 259.3" stroke-opacity="0.85"/><path d="M172.0 247.5L173.3 250.4" stroke-opacity="0.78"/><path d="M165.5 268.0L166.2 269.6" stroke-opacity="0.92"/><path d="M169.5 263.1L170.9 266.2" stroke-opacity="0.95"/><path d="M173.3 257.7L174.0 259.1" stroke-opacity="0.92"/><path d="M170.4 272.9L171.8 275.8" stroke-opacity="0.97"/><path d="M180.2 258.2L180.9 259.8" stroke-opacity="0.76"/><path d="M176.9 272.8L177.5 274.3" stroke-opacity="0.91"/><path d="M180.8 267.6L181.4 269.0" stroke-opacity="0.90"/></g>
<g stroke="#360a84" stroke-width="1.7" stroke-linecap="round" fill="none"><path d="M88.7 190.1L89.9 192.7" stroke-opacity="0.82"/><path d="M88.1 199.8L89.3 202.4" stroke-opacity="0.86"/><path d="M91.9 195.5L92.8 197.4" stroke-opacity="0.79"/><path d="M100.0 184.7L101.5 187.9" stroke-opacity="0.89"/><path d="M95.8 199.9L96.5 201.5" stroke-opacity="0.87"/><path d="M100.0 195.5L100.6 196.9" stroke-opacity="0.88"/><path d="M103.6 190.5L104.2 191.7" stroke-opacity="0.86"/><path d="M107.4 185.9L108.6 188.7" stroke-opacity="0.78"/><path d="M88.4 219.4L89.9 222.5" stroke-opacity="1.00"/><path d="M96.9 210.6L98.1 213.0" stroke-opacity="0.84"/><path d="M104.0 200.6L105.3 203.4" stroke-opacity="0.93"/><path d="M106.7 196.0L107.7 198.2" stroke-opacity="0.85"/><path d="M109.0 190.0L110.5 193.3" stroke-opacity="0.87"/><path d="M113.5 185.7L114.3 187.6" stroke-opacity="0.78"/><path d="M88.3 228.1L89.5 230.6" stroke-opacity="0.94"/><path d="M92.3 225.3L93.5 228.0" stroke-opacity="0.77"/><path d="M95.2 218.9L96.2 221.1" stroke-opacity="0.89"/><path d="M99.2 216.3L99.8 217.7" stroke-opacity="0.79"/><path d="M104.0 211.6L104.5 212.7" stroke-opacity="0.94"/><path d="M106.1 206.2L107.2 208.7" stroke-opacity="0.84"/><path d="M110.7 200.0L112.1 203.0" stroke-opacity="0.78"/><path d="M114.3 194.9L115.2 196.8" stroke-opacity="0.97"/><path d="M116.0 190.6L117.4 193.7" stroke-opacity="0.99"/><path d="M121.1 185.8L121.9 187.4" stroke-opacity="0.86"/><path d="M88.7 238.0L90.2 241.2" stroke-opacity="0.85"/><path d="M92.2 233.4L93.7 236.6" stroke-opacity="0.75"/><path d="M96.4 230.1L97.5 232.5" stroke-opacity="0.84"/><path d="M99.0 223.5L100.3 226.4" stroke-opacity="0.95"/><path d="M104.2 218.9L105.0 220.7" stroke-opacity="0.91"/><path d="M120.4 196.1L121.5 198.4" stroke-opacity="0.90"/><path d="M124.6 190.5L125.6 192.7" stroke-opacity="0.81"/><path d="M89.7 247.9L91.1 250.9" stroke-opacity="0.86"/><path d="M96.8 239.9L97.3 241.1" stroke-opacity="0.92"/><path d="M102.2 228.4L103.5 231.2" stroke-opacity="0.78"/><path d="M106.0 225.6L106.6 226.8" stroke-opacity="0.92"/><path d="M110.6 219.5L111.8 222.1" stroke-opacity="0.85"/><path d="M118.0 209.3L119.0 211.5" stroke-opacity="0.75"/><path d="M121.9 205.0L122.7 206.8" stroke-opacity="0.81"/><path d="M125.0 200.7L126.0 202.7" stroke-opacity="0.76"/><path d="M132.2 190.9L132.8 192.1" stroke-opacity="0.88"/><path d="M134.4 185.9L135.5 188.3" stroke-opacity="0.84"/><path d="M89.1 258.9L90.2 261.1" stroke-opacity="0.77"/><path d="M103.1 240.4L103.6 241.6" stroke-opacity="0.83"/><path d="M109.7 230.4L110.3 231.7" stroke-opacity="0.89"/><path d="M117.4 219.6L118.4 221.8" stroke-opacity="0.77"/><path d="M121.1 214.3L122.0 216.1" stroke-opacity="0.84"/><path d="M124.3 208.9L125.8 212.0" stroke-opacity="0.83"/><path d="M128.6 206.5L129.3 207.9" stroke-opacity="0.77"/><path d="M132.0 199.6L133.1 201.9" stroke-opacity="0.78"/><path d="M134.6 195.0L135.6 197.2" stroke-opacity="0.84"/><path d="M137.7 191.1L138.4 192.5" stroke-opacity="0.81"/><path d="M88.8 268.8L89.5 270.3" stroke-opacity="0.86"/><path d="M96.5 258.3L97.8 261.1" stroke-opacity="0.95"/><path d="M102.8 247.2L104.2 250.1" stroke-opacity="0.83"/><path d="M109.3 239.3L109.9 240.6" stroke-opacity="0.95"/><path d="M113.6 234.5L114.4 236.3" stroke-opacity="0.80"/><path d="M117.0 230.3L117.8 232.0" stroke-opacity="0.77"/><path d="M120.1 224.8L121.3 227.3" stroke-opacity="0.95"/><path d="M123.2 219.8L124.5 222.6" stroke-opacity="0.80"/><path d="M127.3 216.2L128.1 217.8" stroke-opacity="0.97"/><path d="M131.4 211.0L132.4 213.2" stroke-opacity="0.99"/><path d="M134.5 206.0L135.9 208.9" stroke-opacity="0.79"/><path d="M138.0 198.9L139.5 202.1" stroke-opacity="0.86"/><path d="M142.6 195.6L143.2 196.9" stroke-opacity="0.89"/><path d="M145.8 190.5L147.2 193.6" stroke-opacity="0.97"/><path d="M149.1 185.2L150.0 187.3" stroke-opacity="0.99"/><path d="M99.9 262.7L100.6 264.4" stroke-opacity="0.94"/><path d="M102.3 259.0L103.1 260.8" stroke-opacity="0.98"/><path d="M106.2 252.7L107.2 255.0" stroke-opacity="0.94"/><path d="M112.6 242.8L114.1 246.0" stroke-opacity="0.91"/><path d="M117.4 239.0L118.8 242.2" stroke-opacity="0.94"/><path d="M127.6 224.1L129.0 227.2" stroke-opacity="0.78"/><path d="M130.8 218.8L131.9 220.9" stroke-opacity="0.96"/><path d="M135.0 215.0L136.1 217.3" stroke-opacity="0.82"/><path d="M149.0 196.0L150.4 199.0" stroke-opacity="0.78"/><path d="M152.8 191.6L153.5 193.3" stroke-opacity="0.77"/><path d="M156.1 187.1L156.8 188.7" stroke-opacity="0.81"/><path d="M99.1 271.2L100.6 274.5" stroke-opacity="0.83"/><path d="M102.0 266.6L103.4 269.6" stroke-opacity="0.95"/><path d="M106.8 262.4L107.4 263.8" stroke-opacity="0.94"/><path d="M116.4 247.6L117.4 249.8" stroke-opacity="0.80"/><path d="M127.4 234.3L128.7 237.1" stroke-opacity="0.96"/><path d="M130.3 228.1L131.4 230.5" stroke-opacity="0.84"/><path d="M141.7 213.8L142.8 216.3" stroke-opacity="0.97"/><path d="M145.3 210.7L146.0 212.3" stroke-opacity="0.98"/><path d="M148.6 204.8L149.3 206.2" stroke-opacity="0.80"/><path d="M152.0 200.5L153.2 203.1" stroke-opacity="0.86"/><path d="M154.8 196.2L155.7 198.4" stroke-opacity="0.85"/><path d="M159.5 191.2L160.7 193.7" stroke-opacity="0.92"/><path d="M106.3 272.3L107.7 275.4" stroke-opacity="0.93"/><path d="M114.0 261.5L115.4 264.4" stroke-opacity="0.86"/><path d="M120.7 254.0L121.5 255.7" stroke-opacity="0.84"/><path d="M123.6 247.1L125.1 250.3" stroke-opacity="0.91"/><path d="M132.4 239.7L133.2 241.4" stroke-opacity="0.85"/><path d="M148.3 215.2L149.3 217.4" stroke-opacity="0.99"/><path d="M151.4 210.1L152.5 212.4" stroke-opacity="0.98"/><path d="M155.3 205.7L156.7 208.9" stroke-opacity="0.77"/><path d="M161.4 194.7L162.9 197.9" stroke-opacity="0.79"/><path d="M165.9 191.1L167.2 193.8" stroke-opacity="0.94"/><path d="M169.0 185.4L170.2 188.0" stroke-opacity="0.80"/><path d="M113.1 272.9L113.7 274.2" stroke-opacity="0.78"/><path d="M117.2 267.1L118.1 269.1" stroke-opacity="0.78"/><path d="M119.5 262.1L121.0 265.3" stroke-opacity="0.89"/><path d="M134.6 242.7L135.9 245.7" stroke-opacity="0.80"/><path d="M141.6 234.7L142.6 236.7" stroke-opacity="0.83"/><path d="M144.7 230.1L145.4 231.4" stroke-opacity="1.00"/><path d="M148.6 223.6L149.7 226.2" stroke-opacity="0.88"/><path d="M155.7 214.2L156.8 216.6" stroke-opacity="0.91"/><path d="M163.0 205.7L164.4 208.7" stroke-opacity="0.80"/><path d="M168.8 195.2L169.8 197.2" stroke-opacity="0.79"/><path d="M172.3 191.0L173.7 194.1" stroke-opacity="0.85"/><path d="M120.8 272.1L122.1 275.0" stroke-opacity="0.75"/><path d="M124.1 267.9L125.2 270.4" stroke-opacity="0.80"/><path d="M128.7 263.6L129.7 265.6" stroke-opacity="0.99"/><path d="M141.0 243.4L141.8 245.0" stroke-opacity="0.76"/><path d="M144.6 239.2L145.2 240.4" stroke-opacity="0.90"/><path d="M149.6 234.1L150.8 236.7" stroke-opacity="0.86"/><path d="M151.4 229.1L152.6 231.6" stroke-opacity="0.79"/><path d="M159.8 219.8L161.0 222.4" stroke-opacity="0.99"/><path d="M162.2 215.8L162.9 217.4" stroke-opacity="0.96"/><path d="M169.9 204.6L170.9 206.9" stroke-opacity="0.93"/><path d="M172.9 199.9L173.5 201.4" stroke-opacity="0.92"/><path d="M175.5 194.9L176.7 197.5" stroke-opacity="1.00"/><path d="M130.3 266.8L131.3 268.9" stroke-opacity="0.81"/><path d="M135.1 262.3L136.1 264.5" stroke-opacity="0.93"/><path d="M138.6 257.4L140.0 260.5" stroke-opacity="0.98"/><path d="M141.9 252.3L143.0 254.8" stroke-opacity="0.82"/><path d="M148.0 243.9L148.8 245.6" stroke-opacity="0.77"/><path d="M153.0 240.0L153.5 241.2" stroke-opacity="0.85"/><path d="M154.9 235.4L155.7 237.1" stroke-opacity="0.94"/><path d="M158.6 228.8L159.2 230.3" stroke-opacity="0.88"/><path d="M163.3 223.5L164.6 226.2" stroke-opacity="0.86"/><path d="M165.6 218.4L167.1 221.6" stroke-opacity="0.78"/><path d="M176.8 204.6L178.0 207.3" stroke-opacity="0.93"/><path d="M135.4 272.6L136.8 275.6" stroke-opacity="0.89"/><path d="M141.5 262.5L142.9 265.5" stroke-opacity="0.92"/><path d="M144.3 257.3L145.8 260.5" stroke-opacity="0.92"/><path d="M147.8 254.1L148.9 256.5" stroke-opacity="0.86"/><path d="M152.7 248.3L153.7 250.6" stroke-opacity="0.96"/><path d="M156.2 243.1L157.5 245.8" stroke-opacity="0.95"/><path d="M162.3 233.4L163.8 236.5" stroke-opacity="0.80"/><path d="M168.9 224.4L170.1 227.0" stroke-opacity="0.79"/><path d="M174.1 220.5L175.4 223.3" stroke-opacity="0.80"/><path d="M141.5 272.3L142.5 274.6" stroke-opacity="0.92"/><path d="M145.8 268.8L146.7 270.7" stroke-opacity="0.96"/><path d="M149.4 263.3L150.3 265.1" stroke-opacity="0.99"/><path d="M152.5 258.3L153.1 259.7" stroke-opacity="0.97"/><path d="M156.4 252.3L157.4 254.4" stroke-opacity="0.87"/><path d="M158.9 249.3L159.9 251.6" stroke-opacity="0.98"/><path d="M163.1 243.8L164.0 245.7" stroke-opacity="0.90"/><path d="M166.9 238.5L167.8 240.4" stroke-opacity="0.84"/><path d="M170.7 234.4L171.5 236.2" stroke-opacity="0.96"/><path d="M172.6 230.1L173.3 231.6" stroke-opacity="0.76"/><path d="M177.6 224.2L178.2 225.4" stroke-opacity="0.82"/><path d="M154.9 263.8L155.7 265.5" stroke-opacity="0.78"/><path d="M162.4 254.3L163.0 255.6" stroke-opacity="0.87"/><path d="M166.8 248.1L167.6 249.8" stroke-opacity="0.84"/><path d="M180.2 230.7L180.8 232.1" stroke-opacity="0.94"/><path d="M154.9 272.2L156.2 275.1" stroke-opacity="0.92"/><path d="M163.3 263.9L163.9 265.1" stroke-opacity="0.86"/><path d="M167.5 258.2L168.0 259.3" stroke-opacity="0.85"/><path d="M172.0 247.5L173.3 250.4" stroke-opacity="0.78"/><path d="M165.5 268.0L166.2 269.6" stroke-opacity="0.92"/><path d="M169.5 263.1L170.9 266.2" stroke-opacity="0.95"/><path d="M173.3 257.7L174.0 259.1" stroke-opacity="0.92"/><path d="M170.4 272.9L171.8 275.8" stroke-opacity="0.97"/><path d="M180.2 258.2L180.9 259.8" stroke-opacity="0.76"/><path d="M176.9 272.8L177.5 274.3" stroke-opacity="0.91"/><path d="M180.8 267.6L181.4 269.0" stroke-opacity="0.90"/></g>
</g></g>
<filter id="w2" x="0" y="0" width="1" height="1" color-interpolation-filters="sRGB"><feTurbulence type="fractalNoise" baseFrequency="0.13 0.11" numOctaves="1" seed="12"/><feColorMatrix type="matrix" values="0 0 0 0 0.9  0 0 0 0 0.96  0 0 0 0 1  2.6 0 0 0 -1.45"/></filter>
<rect x="96.7" y="192.0" width="76.8" height="76.0" filter="url(#w2)"/>
<filter id="b3" x="-0.1" y="-0.1" width="1.2" height="1.2"><feGaussianBlur stdDeviation="1.2"/></filter>
<g clip-path="url(#c2)"><g filter="url(#b3)">
<path d="M187.3 204.0L194.0 195.7L200.7 204.0L194.0 212.3z" fill="#bcdcff" fill-opacity="1"/>
<path d="M179.4 209.3L184.6 202.8L189.8 209.3L184.6 215.8z" fill="#bcdcff" fill-opacity="0.9799999999999999"/>
<path d="M171.2 194.6L176.0 188.6L180.8 194.6L176.0 200.6z" fill="#bcdcff" fill-opacity="1"/>
<path d="M200.4 196.6L205.2 190.6L210.0 196.6L205.2 202.6z" fill="#bcdcff" fill-opacity="0.7"/>
<path d="M205.7 210.0L210.5 204.0L215.3 210.0L210.5 216.0z" fill="#bcdcff" fill-opacity="0.84"/>
<path d="M181.4 223.2L186.6 216.7L191.8 223.2L186.6 229.7z" fill="#bcdcff" fill-opacity="0.84"/>
<path d="M170.2 223.2L174.6 217.6L179.0 223.2L174.6 228.8z" fill="#bcdcff" fill-opacity="0.84"/>
<path d="M218.7 198.0L224.6 190.6L230.5 198.0L224.6 205.4z" fill="#bcdcff" fill-opacity="0.9799999999999999"/>
<path d="M214.4 208.6L220.0 201.7L225.6 208.6L220.0 215.5z" fill="#bcdcff" fill-opacity="0.9799999999999999"/>
<path d="M231.0 207.3L236.6 200.4L242.2 207.3L236.6 214.2z" fill="#bcdcff" fill-opacity="0.84"/>
<path d="M240.0 198.0L245.2 191.5L250.4 198.0L245.2 204.5z" fill="#bcdcff" fill-opacity="0.7"/>
<path d="M218.1 221.9L223.3 215.4L228.5 221.9L223.3 228.4z" fill="#bcdcff" fill-opacity="0.84"/>
<path d="M188.3 252.6L194.6 244.7L200.9 252.6L194.6 260.5z" fill="#bcdcff" fill-opacity="0.9799999999999999"/>
<path d="M174.4 248.0L180.0 241.1L185.6 248.0L180.0 254.9z" fill="#bcdcff" fill-opacity="0.84"/>
<path d="M180.9 230.7L185.3 225.1L189.7 230.7L185.3 236.2z" fill="#bcdcff" fill-opacity="0.9799999999999999"/>
<path d="M200.9 238.6L206.5 231.7L212.1 238.6L206.5 245.5z" fill="#bcdcff" fill-opacity="0.84"/>
<path d="M202.7 257.2L207.9 250.7L213.1 257.2L207.9 263.7z" fill="#bcdcff" fill-opacity="0.84"/>
<path d="M175.2 260.0L180.0 254.0L184.8 260.0L180.0 266.0z" fill="#bcdcff" fill-opacity="0.5599999999999999"/>
<path d="M209.1 242.0L214.7 235.1L220.2 242.0L214.7 248.9z" fill="#bcdcff" fill-opacity="1"/>
<path d="M229.6 232.0L235.2 225.1L240.8 232.0L235.2 238.9z" fill="#bcdcff" fill-opacity="0.84"/>
<path d="M217.2 242.6L222.0 236.6L226.8 242.6L222.0 248.6z" fill="#bcdcff" fill-opacity="0.84"/>
<path d="M227.4 244.0L232.6 237.5L237.8 244.0L232.6 250.5z" fill="#bcdcff" fill-opacity="0.84"/>
<path d="M211.8 253.2L216.6 247.2L221.4 253.2L216.6 259.2z" fill="#bcdcff" fill-opacity="0.7"/>
<path d="M235.2 252.0L240.0 246.0L244.8 252.0L240.0 258.0z" fill="#bcdcff" fill-opacity="0.5599999999999999"/>
<path d="M241.6 246.0L246.0 240.4L250.4 246.0L246.0 251.6z" fill="#bcdcff" fill-opacity="0.5599999999999999"/>
<path d="M230.5 217.9L233.9 213.6L237.3 217.9L233.9 222.2z" fill="#ffffff" fill-opacity="1"/>
<path d="M209.0 218.6L212.0 214.8L215.0 218.6L212.0 222.3z" fill="#ffffff" fill-opacity="1"/>
<path d="M191.8 203.5L194.5 200.1L197.2 203.5L194.5 206.9z" fill="#ffffff" fill-opacity="1"/>
<path d="M212.4 241.5L214.5 238.9L216.6 241.5L214.5 244.1z" fill="#ffffff" fill-opacity="1"/>
<path d="M175.9 195.3L180.0 190.2L184.1 195.3L180.0 200.4z" fill="#4c18a4" fill-opacity="0.95"/>
<path d="M177.3 195.3L180.0 191.9L182.7 195.3L180.0 198.7z" fill="#6c0858" fill-opacity="1"/>
<path d="M198.7 206.0L202.8 200.9L206.9 206.0L202.8 211.1z" fill="#4c18a4" fill-opacity="0.95"/>
<path d="M200.1 206.0L202.8 202.6L205.5 206.0L202.8 209.4z" fill="#6c0858" fill-opacity="1"/>
<path d="M176.9 217.9L181.0 212.8L185.1 217.9L181.0 223.0z" fill="#4c18a4" fill-opacity="0.95"/>
<path d="M178.3 217.9L181.0 214.5L183.7 217.9L181.0 221.3z" fill="#6c0858" fill-opacity="1"/>
<path d="M199.1 218.6L203.2 213.5L207.3 218.6L203.2 223.7z" fill="#4c18a4" fill-opacity="0.95"/>
<path d="M200.5 218.6L203.2 215.2L205.9 218.6L203.2 222.0z" fill="#6c0858" fill-opacity="1"/>
<path d="M187.2 225.2L191.3 220.1L195.4 225.2L191.3 230.3z" fill="#4c18a4" fill-opacity="0.95"/>
<path d="M188.6 225.2L191.3 221.8L194.0 225.2L191.3 228.6z" fill="#6c0858" fill-opacity="1"/>
<path d="M206.4 223.2L210.5 218.1L214.6 223.2L210.5 228.3z" fill="#4c18a4" fill-opacity="0.76"/>
<path d="M207.8 223.2L210.5 219.8L213.2 223.2L210.5 226.6z" fill="#6c0858" fill-opacity="0.8"/>
<path d="M225.8 202.6L229.9 197.5L234.0 202.6L229.9 207.7z" fill="#4c18a4" fill-opacity="0.855"/>
<path d="M227.2 202.6L229.9 199.2L232.6 202.6L229.9 206.0z" fill="#6c0858" fill-opacity="0.9"/>
<path d="M223.2 213.3L227.3 208.2L231.4 213.3L227.3 218.4z" fill="#4c18a4" fill-opacity="0.76"/>
<path d="M224.6 213.3L227.3 209.9L230.0 213.3L227.3 216.7z" fill="#6c0858" fill-opacity="0.8"/>
<path d="M236.2 217.2L240.3 212.1L244.4 217.2L240.3 222.3z" fill="#4c18a4" fill-opacity="1"/>
<path d="M237.6 217.2L240.3 213.8L243.0 217.2L240.3 220.6z" fill="#6c0858" fill-opacity="1"/>
<path d="M243.1 219.9L247.2 214.8L251.3 219.9L247.2 225.0z" fill="#4c18a4" fill-opacity="0.95"/>
<path d="M244.5 219.9L247.2 216.5L249.9 219.9L247.2 223.3z" fill="#6c0858" fill-opacity="1"/>
<path d="M211.9 202.0L216.0 196.9L220.1 202.0L216.0 207.1z" fill="#4c18a4" fill-opacity="0.57"/>
<path d="M213.3 202.0L216.0 198.6L218.7 202.0L216.0 205.4z" fill="#6c0858" fill-opacity="0.6"/>
<path d="M186.5 229.3L190.6 224.2L194.7 229.3L190.6 234.4z" fill="#4c18a4" fill-opacity="0.855"/>
<path d="M187.9 229.3L190.6 225.9L193.3 229.3L190.6 232.7z" fill="#6c0858" fill-opacity="0.9"/>
<path d="M195.1 232.7L199.2 227.6L203.3 232.7L199.2 237.8z" fill="#4c18a4" fill-opacity="0.95"/>
<path d="M196.5 232.7L199.2 229.3L201.9 232.7L199.2 236.1z" fill="#6c0858" fill-opacity="1"/>
<path d="M177.2 240.6L181.3 235.5L185.4 240.6L181.3 245.7z" fill="#4c18a4" fill-opacity="0.95"/>
<path d="M178.6 240.6L181.3 237.2L184.0 240.6L181.3 244.0z" fill="#6c0858" fill-opacity="1"/>
<path d="M194.5 245.3L198.6 240.2L202.7 245.3L198.6 250.4z" fill="#4c18a4" fill-opacity="0.6649999999999999"/>
<path d="M195.9 245.3L198.6 241.9L201.3 245.3L198.6 248.7z" fill="#6c0858" fill-opacity="0.7"/>
<path d="M185.9 259.9L190.0 254.8L194.1 259.9L190.0 265.0z" fill="#4c18a4" fill-opacity="0.95"/>
<path d="M187.3 259.9L190.0 256.5L192.7 259.9L190.0 263.3z" fill="#6c0858" fill-opacity="1"/>
<path d="M199.1 265.9L203.2 260.8L207.3 265.9L203.2 271.0z" fill="#4c18a4" fill-opacity="0.76"/>
<path d="M200.5 265.9L203.2 262.5L205.9 265.9L203.2 269.3z" fill="#6c0858" fill-opacity="0.8"/>
<path d="M221.9 235.3L226.0 230.2L230.1 235.3L226.0 240.4z" fill="#4c18a4" fill-opacity="0.57"/>
<path d="M223.3 235.3L226.0 231.9L228.7 235.3L226.0 238.7z" fill="#6c0858" fill-opacity="0.6"/>
<path d="M239.8 236.0L243.9 230.9L248.0 236.0L243.9 241.1z" fill="#4c18a4" fill-opacity="0.57"/>
<path d="M241.2 236.0L243.9 232.6L246.6 236.0L243.9 239.4z" fill="#6c0858" fill-opacity="0.6"/>
<path d="M208.6 263.9L212.7 258.8L216.8 263.9L212.7 269.0z" fill="#4c18a4" fill-opacity="0.6649999999999999"/>
<path d="M210.0 263.9L212.7 260.5L215.4 263.9L212.7 267.3z" fill="#6c0858" fill-opacity="0.7"/>
<path d="M220.5 250.6L224.6 245.5L228.7 250.6L224.6 255.7z" fill="#4c18a4" fill-opacity="0.38"/>
<path d="M221.9 250.6L224.6 247.2L227.3 250.6L224.6 254.0z" fill="#6c0858" fill-opacity="0.4"/>
</g></g>
<filter id="w1" x="0" y="0" width="1" height="1" color-interpolation-filters="sRGB"><feTurbulence type="fractalNoise" baseFrequency="0.1 0.12" numOctaves="2" seed="21"/><feColorMatrix type="matrix" values="0 0 0 0 0.5  0 0 0 0 0.22  0 0 0 0 0.82  1.7 0 0 0 -0.72"/></filter>
<rect x="20.7" y="192.0" width="76.0" height="76.0" filter="url(#w1)"/>
<filter id="w1b" x="0" y="0" width="1" height="1" color-interpolation-filters="sRGB"><feTurbulence type="fractalNoise" baseFrequency="0.09 0.1" numOctaves="2" seed="33"/><feColorMatrix type="matrix" values="0 0 0 0 0.62  0 0 0 0 0.8  0 0 0 0 1  1.7 0 0 0 -0.78"/></filter>
<rect x="20.7" y="192.0" width="76.0" height="76.0" filter="url(#w1b)"/>
<filter id="b1" x="-0.3" y="-0.3" width="1.6" height="1.6"><feGaussianBlur stdDeviation="0.55"/></filter>
<g filter="url(#b1)">
<circle cx="54.6" cy="213.4" r="2.3" fill="#fff"/><circle cx="52.0" cy="213.8" r="1.1" fill="#500030"/>
<circle cx="29.6" cy="225.4" r="1.7" fill="none" stroke="#fff" stroke-width="1.2"/>
<circle cx="39.7" cy="251.7" r="1.6" fill="none" stroke="#fff" stroke-width="1.1"/>
</g>
<rect x="71.3" y="254.5" width="25.4" height="13.5" fill="#fff" stroke="#000" stroke-width="0.9"/>
<line x1="76.5" y1="256.8" x2="91.5" y2="256.8" stroke="#000" stroke-width="1.3"/>
<text x="74.6" y="265.3" style="font-size:9.2px" textLength="20" lengthAdjust="spacingAndGlyphs">1 µm</text>
<rect x="148.1" y="254.5" width="25.4" height="13.5" fill="#fff" stroke="#000" stroke-width="0.9"/>
<line x1="153.3" y1="256.8" x2="168.3" y2="256.8" stroke="#000" stroke-width="1.3"/>
<text x="151.4" y="265.3" style="font-size:9.2px" textLength="20" lengthAdjust="spacingAndGlyphs">1 µm</text>
<rect x="224.5" y="254.5" width="25.4" height="13.5" fill="#fff" stroke="#000" stroke-width="0.9"/>
<line x1="229.7" y1="256.8" x2="244.7" y2="256.8" stroke="#000" stroke-width="1.3"/>
<text x="227.8" y="265.3" style="font-size:9.2px" textLength="20" lengthAdjust="spacingAndGlyphs">1 µm</text>
<rect x="300.8" y="254.5" width="25.4" height="13.5" fill="#fff" stroke="#000" stroke-width="0.9"/>
<line x1="306.0" y1="256.8" x2="321.0" y2="256.8" stroke="#000" stroke-width="1.3"/>
<text x="304.1" y="265.3" style="font-size:9.2px" textLength="20" lengthAdjust="spacingAndGlyphs">1 µm</text>
<line x1="20.7" y1="191.3" x2="20.7" y2="268.7" stroke="#000" stroke-width="1.4"/>
<line x1="96.7" y1="191.3" x2="96.7" y2="268.7" stroke="#000" stroke-width="1.4"/>
<line x1="173.5" y1="191.3" x2="173.5" y2="268.7" stroke="#000" stroke-width="1.4"/>
<line x1="249.9" y1="191.3" x2="249.9" y2="268.7" stroke="#000" stroke-width="1.4"/>
<line x1="326.2" y1="191.3" x2="326.2" y2="268.7" stroke="#000" stroke-width="1.4"/>
<line x1="20.0" y1="192.0" x2="326.9" y2="192.0" stroke="#000" stroke-width="1.4"/>
<line x1="20.0" y1="268.0" x2="326.9" y2="268.0" stroke="#000" stroke-width="1.4"/>
</svg></body></html>
